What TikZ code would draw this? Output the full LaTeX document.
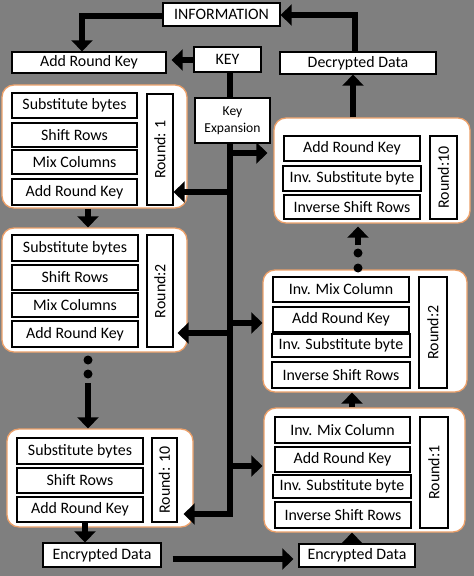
\documentclass[tikz,border=0pt]{standalone}
\usepackage{fontspec}
\setmainfont{Carlito}
\usepackage{graphicx}
\usetikzlibrary{arrows.meta}
\definecolor{bg}{RGB}{127,127,127}
\definecolor{glow}{RGB}{236,160,105}
\begin{document}
\begin{tikzpicture}[x=1bp,y=-1bp,
  bx/.style={draw=black,line width=1.3bp,fill=white,inner sep=0pt,font=\fontsize{15.9bp}{18bp}\selectfont},
  cont/.style={draw=glow,line width=1.3bp,fill=white,rounded corners=12bp,inner sep=0pt},
  arr/.style={line width=6bp,-{Triangle[length=11bp,width=21bp]}},
  ln/.style={line width=6bp},
  dotn/.style={circle,fill=black,inner sep=0pt,minimum size=9bp}]
\fill[bg] (0,0) rectangle (474,576);
\useasboundingbox (0,0) rectangle (474,576);
% containers
\node[cont,minimum width=185bp,minimum height=123bp] (r1) at (94.5,146.5) {};
\node[cont,minimum width=185bp,minimum height=124bp] (r2) at (94.5,290) {};
\node[cont,minimum width=186bp,minimum height=98bp] (r10) at (100,478) {};
\node[cont,minimum width=201bp,minimum height=124bp] (d1) at (364.5,470) {};
\node[cont,minimum width=204bp,minimum height=122bp] (d2) at (365,331) {};
\node[cont,minimum width=196bp,minimum height=105bp] (d10) at (372,170.5) {};
% top boxes
\node[bx,minimum width=117bp,minimum height=23bp] (info) at (221.5,14.5) {INFORMATION};
\node[bx,minimum width=154bp,minimum height=21bp] (ark0) at (89,62.5) {Add Round Key};
\node[bx,minimum width=67bp,minimum height=25bp] (key) at (227.5,59.5) {KEY};
\node[bx,minimum width=75bp,minimum height=45bp,align=center,font=\fontsize{13.6bp}{17bp}\selectfont] (kexp) at (232.5,120.5) {Key\\Expansion};
\node[bx,minimum width=156bp,minimum height=22bp] (ddata) at (358,63) {Decrypted Data};
% round 1 enc
\node[bx,minimum width=125bp,minimum height=25bp] (sb1) at (74.5,105.5) {Substitute bytes};
\node[bx,minimum width=125bp,minimum height=24bp] (sr1) at (74.5,135) {Shift Rows};
\node[bx,minimum width=125bp,minimum height=24bp] (mc1) at (74.5,162) {Mix Columns};
\node[bx,minimum width=125bp,minimum height=26bp] (ak1) at (74.5,192) {Add Round Key};
\node[bx,minimum width=26bp,minimum height=111bp] (rl1) at (160,149.5) {\rotatebox{90}{Round: 1}};
% round 2 enc
\node[bx,minimum width=126bp,minimum height=26bp] (sb2) at (75,248) {Substitute bytes};
\node[bx,minimum width=126bp,minimum height=25bp] (sr2) at (75,277.5) {Shift Rows};
\node[bx,minimum width=126bp,minimum height=24bp] (mc2) at (75,305) {Mix Columns};
\node[bx,minimum width=126bp,minimum height=26bp] (ak2) at (75,334) {Add Round Key};
\node[bx,minimum width=26bp,minimum height=112bp] (rl2) at (160,291) {\rotatebox{90}{Round:2}};
% round 10 enc
\node[bx,minimum width=126bp,minimum height=26bp] (sb10) at (80,451) {Substitute bytes};
\node[bx,minimum width=126bp,minimum height=25bp] (sr10) at (80,480.5) {Shift Rows};
\node[bx,minimum width=126bp,minimum height=25bp] (ak10) at (80,509.5) {Add Round Key};
\node[bx,minimum width=25bp,minimum height=84bp] (rl10) at (164.5,480) {\rotatebox{90}{Round: 10}};
% encrypted data
\node[bx,minimum width=118bp,minimum height=24bp] (enc) at (102,555) {Encrypted Data};
\node[bx,minimum width=116bp,minimum height=23bp] (denc) at (357,555.5) {Encrypted Data};
% dec round 1
\node[bx,minimum width=135bp,minimum height=26bp] (dimc1) at (342.5,430) {Inv. Mix Column};
\node[bx,minimum width=135bp,minimum height=25bp] (dark1) at (342.5,459.5) {Add Round Key};
\node[bx,minimum width=138bp,minimum height=23bp] (disb1) at (342,486.5) {Inv. Substitute byte};
\node[bx,minimum width=136bp,minimum height=26bp] (disr1) at (343,515) {Inverse Shift Rows};
\node[bx,minimum width=28bp,minimum height=111bp] (drl1) at (434,472.5) {\rotatebox{90}{Round:1}};
% dec round 2
\node[bx,minimum width=136bp,minimum height=25bp] (dimc2) at (341,289.5) {Inv. Mix Column};
\node[bx,minimum width=136bp,minimum height=25bp] (dark2) at (341,319.5) {Add Round Key};
\node[bx,minimum width=138bp,minimum height=23bp] (disb2) at (341,345.5) {Inv. Substitute byte};
\node[bx,minimum width=138bp,minimum height=26bp] (disr2) at (341,375) {Inverse Shift Rows};
\node[bx,minimum width=28bp,minimum height=111bp] (drl2) at (433,332.5) {\rotatebox{90}{Round:2}};
% dec round 10
\node[bx,minimum width=136bp,minimum height=25bp] (dark10) at (352,148.5) {Add Round Key};
\node[bx,minimum width=138bp,minimum height=25bp] (disb10) at (352,178.5) {Inv. Substitute byte};
\node[bx,minimum width=136bp,minimum height=24bp] (disr10) at (352,207) {Inverse Shift Rows};
\node[bx,minimum width=27bp,minimum height=83bp] (drl10) at (443.5,177.5) {\rotatebox{90}{Round:10}};
% dots
\node[dotn] (e1) at (88,360) {};
\node[dotn] (e2) at (88,374) {};
\node[dotn] (f1) at (358,253) {};
\node[dotn] (f2) at (358,268) {};
% coordinates
\coordinate (kx) at (230,0);
\coordinate (ax) at (82,16);
\coordinate (dx) at (355,15);
\coordinate (bend) at (230,514);
\coordinate (b1) at (230,153);
\coordinate (b2) at (230,192);
\coordinate (b3) at (230,323);
\coordinate (b4) at (230,333);
\coordinate (b5) at (230,466);
\coordinate (s1) at (88,383);
\coordinate (s2) at (358,245);
% arrows
\draw[arr] (info.west |- ax) -- (ax) -- (ax |- ark0.north);
\draw[arr] (ddata.north -| dx) -- (dx) -- (info.east |- dx);
\draw[arr,shorten >=5bp] (key.west |- 0,60) -- (ark0.east |- 0,60);
\draw[ln] (key.south -| kx) -- (kexp.north -| kx);
\draw[arr,shorten >=6bp] (kexp.south -| kx) -- (bend) -- (rl10.east |- bend);
\draw[arr,shorten >=6bp] (b1) -- (d10.west |- b1);
\draw[arr] (b2) -- (rl1.east |- b2);
\draw[arr,shorten >=4bp] (b4) -- (rl2.east |- b4);
\draw[arr] (b3) -- (d2.west |- b3);
\draw[arr,shorten >=1bp] (b5) -- (d1.west |- b5);
\draw[arr] (r1.south -| 88,0) -- (r2.north -| 88,0);
\draw[arr] (s1) -- (r10.north -| s1);
\draw[arr] (ak10.south -| 85,0) -- (enc.north -| 85,0);
\draw[arr,shorten <=11bp,shorten >=5bp] (enc.east |- 0,559) -- (denc.west |- 0,559);
\draw[arr] (denc.north -| 352,0) -- (d1.south -| 352,0);
\draw[arr] (d1.north -| 352,0) -- (d2.south -| 352,0);
\draw[arr,shorten >=3bp] (s2) -- (d10.south -| s2);
\draw[arr] (d10.north -| 353,0) -- (ddata.south -| 353,0);
\end{tikzpicture}
\end{document}
